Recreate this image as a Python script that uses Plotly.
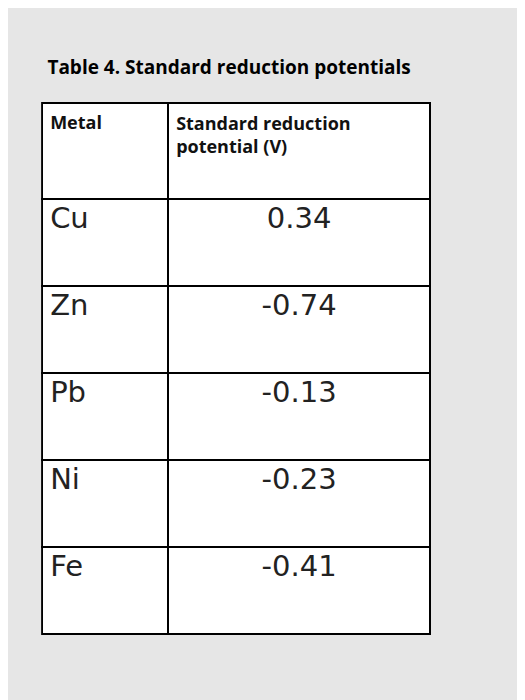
import plotly.graph_objects as go

metals = ["Cu", "Zn", "Pb", "Ni", "Fe"]
potentials = ["0.34", "-0.74", "-0.13", "-0.23", "-0.41"]
headers = ["<br>Metal", "Standard reduction<br>potential (V)"]

fig = go.Figure(
    go.Table(
        domain=dict(x=[0.065, 0.805], y=[0.10, 0.865]),
        columnwidth=[126, 262],
        header=dict(
            values=[f"<b>{h}</b>" for h in headers],
            align=["left", "left"],
            height=96,
            fill_color="white",
            line=dict(color="black", width=2),
            font=dict(family="Open Sans", size=18, color="#111"),
        ),
        cells=dict(
            values=[metals, potentials],
            align=["left", "center"],
            height=87,
            fill_color="white",
            line=dict(color="black", width=2),
            font=dict(family="DejaVu Sans", size=29, color="#222"),
        ),
    )
)
fig.update_layout(
    width=525,
    height=700,
    margin=dict(l=0, r=0, t=0, b=0),
    paper_bgcolor="#e6e6e6",
    title=dict(
        text="<b>Table 4. Standard reduction potentials</b>",
        x=0.075,
        xanchor="left",
        y=0.925,
        font=dict(family="Open Sans", size=19, color="black"),
    ),
)
fig.write_html("out.html")
